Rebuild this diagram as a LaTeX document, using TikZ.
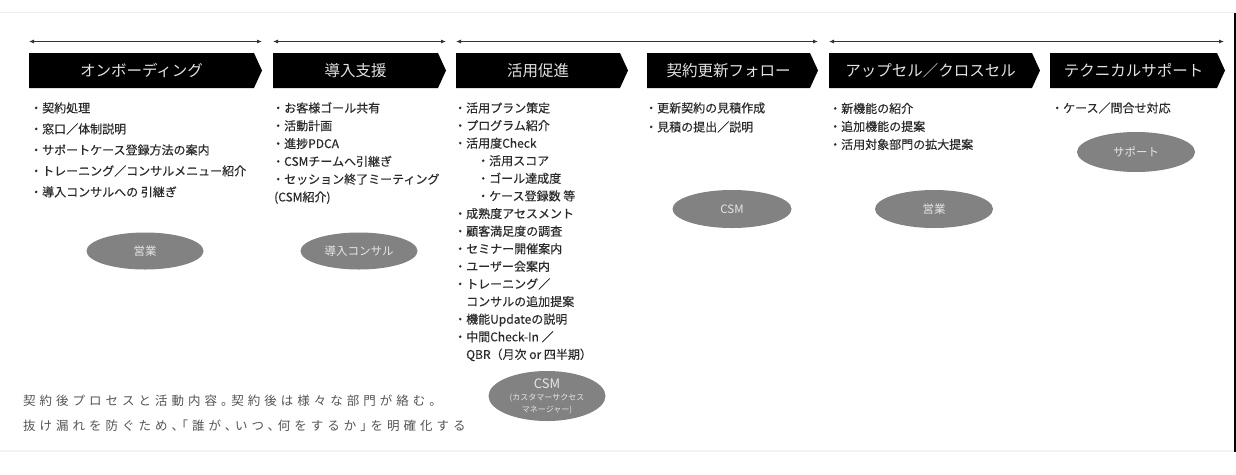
\documentclass[tikz,border=0pt]{standalone}
\usepackage{fontspec}
\setmainfont{Noto Sans CJK JP}
\newfontfamily\itemfont[FakeBold=0.3]{Noto Sans CJK JP}
\newfontfamily\capfont[LetterSpace=32,CharacterWidth=AlternateHalf]{Noto Sans CJK JP}
\usetikzlibrary{arrows.meta,shapes.geometric}

\definecolor{itemgray}{HTML}{2A2A2A}
\definecolor{ovalgray}{HTML}{828282}
\definecolor{ovaltext}{HTML}{E6E6E6}
\definecolor{capgray}{HTML}{555555}
\definecolor{headtext}{HTML}{E2E2E2}

\tikzset{
  span/.style={{Latex[length=5pt,width=4pt]}-{Latex[length=5pt,width=4pt]}, line width=.8pt, draw=black!80},
  headtxt/.style={text=headtext, inner sep=0, font=\fontsize{15.5}{15.5}\selectfont},
  item/.style={anchor=base west, inner sep=0, text=itemgray, font=\itemfont\fontsize{12}{14}\selectfont},
  oval/.style={ellipse, fill=ovalgray, text=ovaltext, minimum width=117pt, minimum height=37pt,
    inner sep=0, align=center, font=\fontsize{11.5}{13}\selectfont},
}

% black phase box with a point: name, left x, tip x, text
\newcommand{\phasebox}[4]{%
  \fill (#2,53) -- (#3-8,53) -- (#3,70.5) -- (#3-8,88) -- (#2,88) -- cycle;
  \node[headtxt] (#1) at ({(#2+#3-8)/2},70.5) {#4};}
\newcommand{\subtxt}{\fontsize{8}{9}\selectfont}

\begin{document}
\begin{tikzpicture}[x=1pt,y=-1pt]
  \fill[white] (0,0) rectangle (1236,474);
  \useasboundingbox (0,0) rectangle (1236,474);

    %%frame
    \draw[black!7, line width=1pt] (0,12.5) -- (1236,12.5);
    \draw[black!5, line width=1.5pt] (0,451) -- (1234,451);
    \draw[black, line width=1.5pt] (1235,13) -- (1235,452);

    %%spans
    \coordinate (s1a) at (29,41.5);  \coordinate (s1b) at (262,41.5);
    \coordinate (s2a) at (273,41.5); \coordinate (s2b) at (446,41.5);
    \coordinate (s3a) at (456,41.5); \coordinate (s3b) at (818,41.5);
    \coordinate (s4a) at (829,41.5); \coordinate (s4b) at (1224,41.5);
    \draw[span] (s1a) -- (s1b);
    \draw[span] (s2a) -- (s2b);
    \draw[span] (s3a) -- (s3b);
    \draw[span] (s4a) -- (s4b);

    %%phases
    \phasebox{onb}{29}{262}{オンボーディング}
    \phasebox{intro}{273}{446}{導入支援}
    \phasebox{use}{456}{628}{活用促進}
    \phasebox{renew}{647}{818}{契約更新フォロー}
    \phasebox{upsell}{829}{1040}{アップセル／クロスセル}
    \phasebox{tech}{1050}{1225}{テクニカルサポート}

    %%L1
    \foreach \t [count=\i from 0] in {契約処理,窓口／体制説明,サポートケース登録方法の案内,
        トレーニング／コンサルメニュー紹介,導入コンサルへの 引継ぎ}
      \node[item] (l1-\i) at (30,112.5+21*\i) {・\t};

    %%L2
    \foreach \dx/\t [count=\i from 0] in {0/・お客様ゴール共有,0/・活動計画,0/・進捗PDCA,
        0/・CSMチームへ引継ぎ,0/・セッション終了ミーティング,2/(CSM紹介)}
      \node[item] (l2-\i) at (272+\dx,112.5+17.8*\i) {\t};

    %%L3
    \foreach \dx/\t [count=\i from 0] in {0/・活用プラン策定,0/・プログラム紹介,0/・活用度Check,
        23/・活用スコア,23/・ゴール達成度,23/・ケース登録数 等,0/・成熟度アセスメント,
        0/・顧客満足度の調査,0/・セミナー開催案内,0/・ユーザー会案内,0/・トレーニング／,
        12/コンサルの追加提案,0/・機能Updateの説明,0/・中間Check-In ／,12/QBR（月次 or 四半期）}
      \node[item] (l3-\i) at (454+\dx,112.5+17.6*\i) {\t};

    %%L4
    \foreach \t [count=\i from 0] in {更新契約の見積作成,見積の提出／説明}
      \node[item] (l4-\i) at (645,112.5+19*\i) {・\t};

    %%L5
    \foreach \t [count=\i from 0] in {新機能の紹介,追加機能の提案,活用対象部門の拡大提案}
      \node[item] (l5-\i) at (829,113+18*\i) {・\t};

    %%L6
    \node[item] (l6-0) at (1051,112.5) {・ケース／問合せ対応};

    %%who
    \node[oval] (sales1) at (145,251) {営業};
    \node[oval] (consul) at (359,251) {導入コンサル};
    \node[oval, minimum height=50pt] (csm1) at (547,396)
      {\fontsize{13}{14}\selectfont CSM\\[-1pt]\subtxt (カスタマーサクセス\\[-1pt]\subtxt マネージャー)};
    \node[oval, minimum width=119pt, minimum height=38pt] (csm2) at (732,209) {CSM};
    \node[oval, minimum width=118pt, minimum height=38pt] (sales2) at (934,209) {営業};
    \node[oval, minimum width=118pt, minimum height=40pt] (support) at (1136,152) {サポート};

    %%caption
    \node[anchor=west, inner sep=0, align=left, text=capgray,
      font=\capfont\fontsize{12.5}{25}\selectfont] (caption) at (23,413.5)
      {契約後プロセスと活動内容。契約後は様々な部門が絡む。\\抜け漏れを防ぐため、「誰が、いつ、何をするか」を明確化する};

\end{tikzpicture}
\end{document}
